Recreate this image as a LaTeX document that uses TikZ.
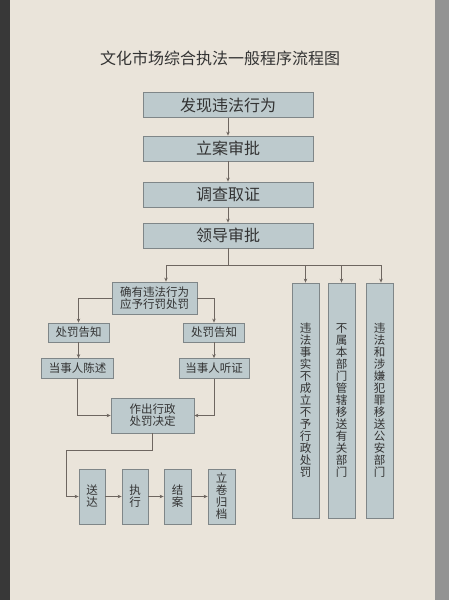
\documentclass[tikz,border=0pt]{standalone}
\usepackage{fontspec}
\newfontfamily\cjk{Noto Sans CJK SC}
\definecolor{paper}{HTML}{EAE4DA}
\definecolor{boxfill}{HTML}{BDCACD}
\definecolor{boxline}{HTML}{7F8688}
\definecolor{inkgray}{HTML}{333333}
\definecolor{wiregray}{HTML}{6E6660}
\usetikzlibrary{arrows.meta, calc}

\begin{document}
\begin{tikzpicture}[x=1pt, y=-1pt,
    stepbox/.style={draw=boxline, fill=boxfill, line width=0.8pt, inner sep=0pt,
      text=inkgray, align=center},
    bigbox/.style={stepbox, minimum width=170pt, minimum height=25pt,
      font=\cjk\fontsize{16}{16}\selectfont},
    smallbox/.style={stepbox, font=\cjk\fontsize{11.5}{12}\selectfont},
    wire/.style={draw=wiregray, line width=0.7pt},
    arr/.style={wire, -{Stealth[length=4pt, width=3.5pt]}}]
    % paper and table edges
    \fill[black!78] (0,0) rectangle (449,600);
    \fill[paper] (10,0) rectangle (435,600);
    \fill[gray!85] (435,0) rectangle (449,600);
    \useasboundingbox (0,0) rectangle (449,600);

    \node[text=inkgray, font=\cjk\fontsize{16}{16}\selectfont] (title) at (220,58)
      {文化市场综合执法一般程序流程图};

    % main column
    \node[bigbox] (find)   at (228,105)   {发现违法行为};
    \node[bigbox] (filing) at (228,148.5) {立案审批};
    \node[bigbox] (probe)  at (228,194.5) {调查取证};
    \node[bigbox] (lead)   at (228,235.5) {领导审批};

    % penalty branch
    \node[smallbox, minimum width=85pt, minimum height=32pt] (decide) at (154.5,298)
      {确有违法行为\\应予行罚处罚};
    \node[smallbox, minimum width=61pt, minimum height=19pt] (notifyL) at (78.5,332.5) {处罚告知};
    \node[smallbox, minimum width=61pt, minimum height=19pt] (notifyR) at (214,332.5) {处罚告知};
    \node[smallbox, minimum width=72pt, minimum height=20pt] (plead) at (77.5,368.5) {当事人陈述};
    \node[smallbox, minimum width=70pt, minimum height=20pt] (hear) at (214,368.5) {当事人听证};
    \node[smallbox, minimum width=83pt, minimum height=35pt] (ruling) at (152.5,415.5)
      {作出行政\\处罚决定};

    % last steps
    \node[smallbox, minimum width=26pt, minimum height=55pt] (serve)   at (92,496.5)    {送\\达};
    \node[smallbox, minimum width=26pt, minimum height=55pt] (enforce) at (135,496.5)   {执\\行};
    \node[smallbox, minimum width=27pt, minimum height=55pt] (close)   at (177.5,496.5) {结\\案};
    \node[smallbox, minimum width=27pt, minimum height=55pt] (archive) at (221.5,496.5) {立\\卷\\归\\档};

    % other outcomes
    \node[smallbox, minimum width=27pt, minimum height=235pt] (nocase) at (305.5,400.5)
      {违\\法\\事\\实\\不\\成\\立\\不\\予\\行\\政\\处\\罚};
    \node[smallbox, minimum width=27pt, minimum height=235pt] (transfer) at (341.5,400.5)
      {不\\属\\本\\部\\门\\管\\辖\\移\\送\\有\\关\\部\\门};
    \node[smallbox, minimum width=27pt, minimum height=235pt] (police) at (379.5,400.5)
      {违\\法\\和\\涉\\嫌\\犯\\罪\\移\\送\\公\\安\\部\\门};

    \coordinate (split)  at (228,265);
    \coordinate (splitL) at (166,265);
    \coordinate (splitR) at (381,265);
    \coordinate (bend)   at (66,450);

    \draw[arr] (find) -- (filing);
    \draw[arr] (filing) -- (probe);
    \draw[arr] (probe) -- (lead);
    \draw[wire] (lead) -- (split);
    \draw[wire] (splitL) -- (splitR);
    \draw[arr] (splitL) -- (splitL |- decide.north);
    \draw[arr] (nocase.north |- split) -- (nocase.north);
    \draw[arr] (transfer.north |- split) -- (transfer.north);
    \draw[arr] (splitR) -- (splitR |- police.north);

    \draw[arr] (decide.west) -| (notifyL.north);
    \draw[arr] (decide.east) -| (notifyR.north);
    \draw[arr] (notifyL) -- (notifyL |- plead.north);
    \draw[arr] (notifyR) -- (hear);
    \draw[arr] (plead.south) |- (ruling.west);
    \draw[arr] (hear.south) |- (ruling.east);
    \draw[wire] (ruling.south) |- (bend);
    \draw[arr] (bend) |- (serve.west);
    \draw[arr] (serve) -- (enforce);
    \draw[arr] (enforce) -- (close);
    \draw[arr] (close) -- (archive);
  \end{tikzpicture}
\end{document}
